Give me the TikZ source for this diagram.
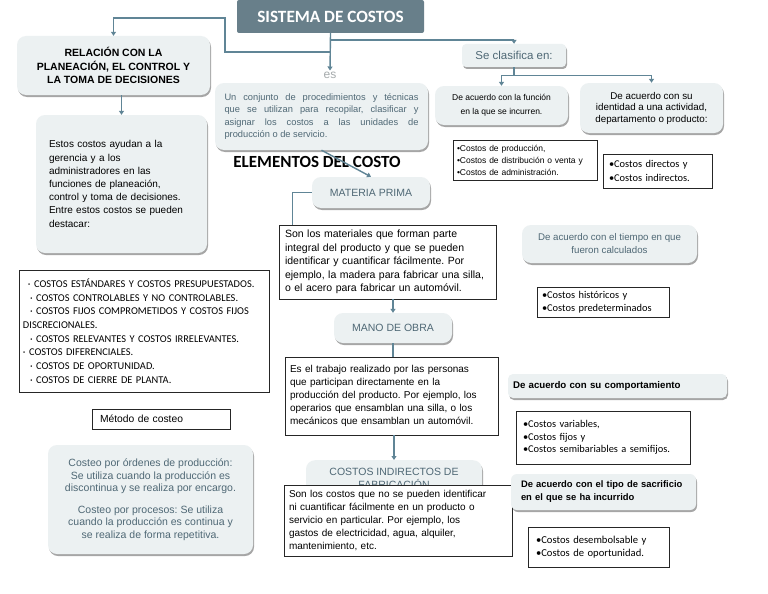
\documentclass[tikz,border=0pt]{standalone}
\usepackage{fontspec}
\setmainfont{Liberation Sans}
\newfontfamily\calibri{Carlito}
\usetikzlibrary{arrows.meta,shadows}
\definecolor{titlegray}{RGB}{104,127,138}
\definecolor{slate}{RGB}{79,104,117}
\definecolor{boxfill}{RGB}{236,241,242}
\definecolor{linkblue}{RGB}{96,133,150}
\definecolor{esgray}{RGB}{165,170,172}
\frenchspacing
\begin{document}
\begin{tikzpicture}[
  x=1pt, y=-1pt,
  every node/.style={inner sep=4pt, align=center},
  bubble/.style={fill=boxfill, rounded corners=9pt,
    drop shadow={shadow xshift=1pt, shadow yshift=-2pt, fill=black, opacity=.35}},
  flat/.style={draw=black!85, fill=white, line width=.7pt, align=left},
  link/.style={draw=linkblue, line width=1.4pt},
  pointed/.style={-{Triangle[length=4pt,width=5pt]}}
]
\useasboundingbox (0,0) rectangle (768,594);
\fill[white] (0,0) rectangle (768,594);

\node[fill=titlegray, rounded corners=2pt, minimum width=187pt, minimum height=33pt,
  text=white, font=\calibri\bfseries\fontsize{17.2}{19}\selectfont] (sistema) at (330.5,16.5) {SISTEMA DE COSTOS};
\node[bubble, minimum width=193pt, minimum height=59pt,
  font=\bfseries\fontsize{10.5}{13.5}\selectfont] (relacion) at (113.5,65.5)
  {RELACIÓN CON LA\\PLANEACIÓN, EL CONTROL Y\\LA TOMA DE DECISIONES};
\node[bubble, minimum width=171pt, minimum height=138pt, text width=145pt, align=left,
  font=\fontsize{10}{13.2}\selectfont] (estos) at (121.5,184)
  {Estos costos ayudan a la\\gerencia y a los\\administradores en las\\funciones de planeación,\\control y toma de decisiones.\\Entre estos costos se pueden\\destacar:\\[6pt]};
\node[text=esgray, inner sep=1pt, font=\fontsize{12}{14}\selectfont] (es) at (330,75) {es};
\node[bubble, minimum width=213pt, minimum height=67pt, text width=194pt, align=justify,
  text=slate, font=\fontsize{9.3}{12.3}\selectfont] (definicion) at (321.5,116.5)
  {Un conjunto de procedimientos y técnicas\linebreak que se utilizan para recopilar, clasificar y\linebreak asignar los costos a las unidades de\linebreak producción o de servicio.};
\node[bubble, rounded corners=4pt, minimum width=104pt, minimum height=23pt, text=slate,
  font=\fontsize{11.5}{13}\selectfont] (clasifica) at (514,55.5) {Se clasifica en:};
\node[bubble, minimum width=133pt, minimum height=39pt,
  font=\fontsize{8.5}{13.5}\selectfont] (funcion) at (501.5,105.5) {De acuerdo con la función\\en la que se incurren.};
\node[bubble, minimum width=143pt, minimum height=50pt,
  font=\fontsize{9.8}{11.5}\selectfont] (identidad) at (651.5,108) {De acuerdo con su\\identidad a una actividad,\\departamento o producto:};
\node[flat, minimum width=144pt, minimum height=40pt, text width=136pt,
  font=\fontsize{8.5}{12}\selectfont] (produccion) at (525,160)
  {•Costos de producción,\\•Costos de distribución o venta y\\•Costos de administración.};
\node[flat, minimum width=109pt, minimum height=34pt, text width=97pt,
  font=\calibri\fontsize{10.4}{14}\selectfont] (directos) at (657.5,171) {•Costos directos y\\•Costos indirectos.};

\node[font=\calibri\bfseries\fontsize{17}{20}\selectfont] (elementos) at (317,162) {ELEMENTOS DEL COSTO};
\node[bubble, minimum width=118pt, minimum height=31pt, text=slate,
  font=\fontsize{10.5}{13}\selectfont] (materia) at (371,192.5) {MATERIA PRIMA};
\node[flat, minimum width=217pt, minimum height=74pt, text width=205pt,
  font=\fontsize{10.5}{13.4}\selectfont] (materiales) at (387.5,262)
  {Son los materiales que forman parte\\integral del producto y que se pueden\\identificar y cuantificar fácilmente. Por\\ejemplo, la madera para fabricar una silla,\\o el acero para fabricar un automóvil.};
\node[bubble, minimum width=118pt, minimum height=30pt, text=slate,
  font=\fontsize{10.5}{13}\selectfont] (mano) at (393,328) {MANO DE OBRA};
\node[flat, minimum width=213pt, minimum height=78pt, text width=203pt,
  font=\fontsize{10}{12.8}\selectfont] (trabajo) at (391.5,396)
  {Es el trabajo realizado por las personas\\que participan directamente en la\\producción del producto. Por ejemplo, los\\operarios que ensamblan una silla, o los\\mecánicos que ensamblan un automóvil.};
\node[bubble, anchor=north, minimum width=176pt, minimum height=36pt, text=slate,
  font=\fontsize{10.5}{13}\selectfont] (indirectos) at (394,460) {COSTOS INDIRECTOS DE\\FABRICACIÓN};
\node[flat, minimum width=228pt, minimum height=71pt, text width=218pt,
  font=\fontsize{10}{13}\selectfont] (sinidentificar) at (398,520.5)
  {Son los costos que no se pueden identificar\\ni cuantificar fácilmente en un producto o\\servicio en particular. Por ejemplo, los\\gastos de electricidad, agua, alquiler,\\mantenimiento, etc.};

\node[bubble, minimum width=175pt, minimum height=38pt, text=slate,
  font=\fontsize{9.7}{13}\selectfont] (tiempo) at (609.5,244) {De acuerdo con el tiempo en que\\fueron calculados};
\node[flat, minimum width=132pt, minimum height=30pt, text width=122pt,
  font=\calibri\fontsize{10.4}{13}\selectfont] (historicos) at (603,302) {•Costos históricos y\\•Costos predeterminados};
\node[bubble, rounded corners=5pt, minimum width=219pt, minimum height=24pt, text width=209pt, align=left,
  font=\bfseries\fontsize{9.7}{11}\selectfont] (comportamiento) at (617.5,386) {De acuerdo con su comportamiento};
\node[flat, minimum width=174pt, minimum height=53pt, text width=160pt,
  font=\calibri\fontsize{10.4}{12.6}\selectfont] (variables) at (603,437.5)
  {•Costos variables,\\•Costos fijos y\\•Costos semibariables a semifijos.};
\node[bubble, rounded corners=6pt, minimum width=185pt, minimum height=36pt, text width=165pt, align=left,
  font=\bfseries\fontsize{9.4}{13}\selectfont] (sacrificio) at (603.5,492) {De acuerdo con el tipo de sacrificio\\en el que se ha incurrido};
\node[flat, minimum width=141pt, minimum height=40pt, text width=125pt,
  font=\calibri\fontsize{10.6}{13.5}\selectfont] (desembolsable) at (598.5,547) {•Costos desembolsable y\\•Costos de oportunidad.};

\node[flat, minimum width=246pt, minimum height=122pt, text width=242pt,
  font=\calibri\fontsize{10.4}{13.7}\selectfont] (clasificaciones) at (144,331)
  {\hspace{5pt}· COSTOS ESTÁNDARES Y COSTOS PRESUPUESTADOS.\\
   \hspace{7pt}· COSTOS CONTROLABLES Y NO CONTROLABLES.\\
   \hspace{7pt}· COSTOS FIJOS COMPROMETIDOS Y COSTOS FIJOS\\
   DISCRECIONALES.\\
   \hspace{7pt}· COSTOS RELEVANTES Y COSTOS IRRELEVANTES.\\
   · COSTOS DIFERENCIALES.\\
   \hspace{7pt}· COSTOS DE OPORTUNIDAD.\\
   \hspace{7pt}· COSTOS DE CIERRE DE PLANTA.};
\node[flat, minimum width=138pt, minimum height=20pt, text width=122pt,
  font=\fontsize{10.3}{11}\selectfont] (metodo) at (161,419) {Método de costeo};
\node[bubble, minimum width=205pt, minimum height=109pt, text=slate,
  font=\fontsize{10.5}{12.5}\selectfont] (costeo) at (150.5,499.5)
  {Costeo por órdenes de producción:\\Se utiliza cuando la producción es\\discontinua y se realiza por encargo.\\[9pt]Costeo por procesos: Se utiliza\\cuando la producción es continua y\\se realiza de forma repetitiva.};

\coordinate (codo) at (225,18);
\draw[link, pointed] (sistema.south) -- (es.north);
\draw[link, pointed] (sistema.south) ++(0,7) -| (clasifica.north);
\draw[link, pointed] (sistema.south) ++(0,19) -| (codo) -| (relacion.north);
\draw[link, pointed] (estos.north |- relacion.south) -- (estos.north);
\draw[link] (clasifica.south) -- ++(0,8) coordinate (rama);
\draw[link, pointed] (rama) -| (funcion.north);
\draw[link, pointed] (rama) -| (identidad.north);
\draw[link, pointed] (definicion.south) -- (materia.north);
\draw[link] (materia.west) -| ([xshift=14pt]materiales.north west);
\draw[link, pointed] (mano.north |- materiales.south) -- (mano.north);
\draw[link] (mano.south) -- (mano.south |- trabajo.north);
\draw[link, pointed] (indirectos.north |- trabajo.south) -- (indirectos.north);
\end{tikzpicture}
\end{document}
